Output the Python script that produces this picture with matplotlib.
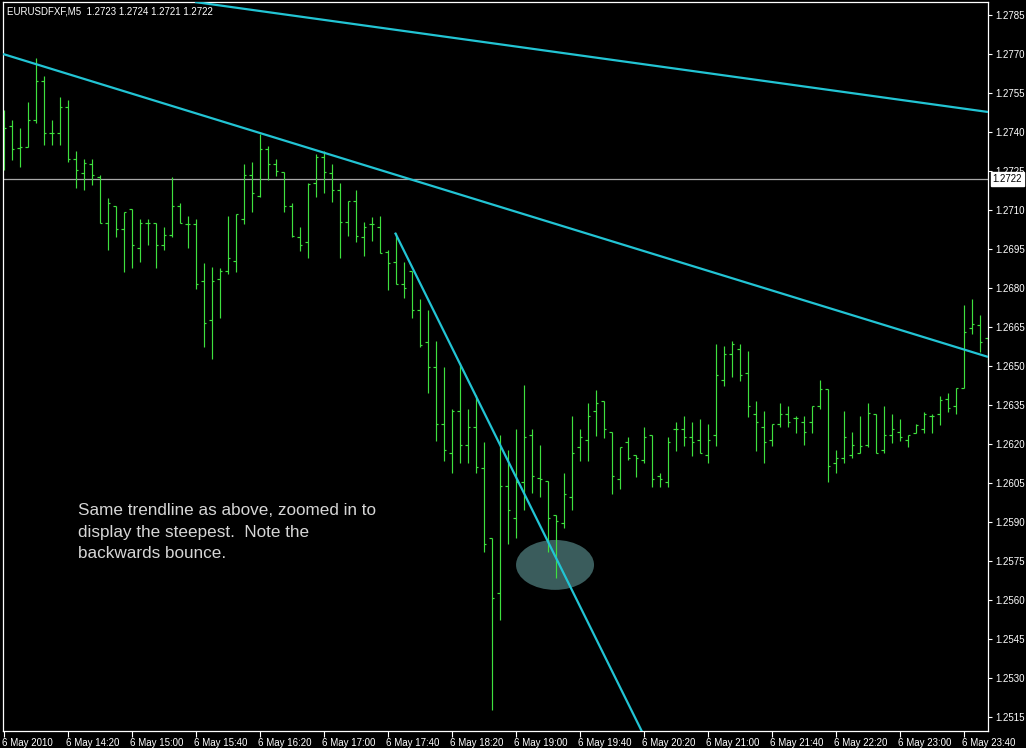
import matplotlib
matplotlib.use('Agg')
import matplotlib.pyplot as plt
from matplotlib.patches import Ellipse
import matplotlib.transforms as mtransforms

# ---------------- data ----------------
title = "EURUSDFXF,M5  1.2723 1.2724 1.2721 1.2722"

opens = [1.27331, 1.27423, 1.27338, 1.27343, 1.27446, 1.27596, 1.27396, 1.27396, 1.27496, 1.27296,
         1.27243, 1.27277, 1.27228, 1.27051, 1.27115, 1.27026, 1.27104, 1.26953, 1.27051, 1.27051,
         1.26965, 1.27004, 1.27115, 1.27046, 1.27046, 1.26828, 1.26677, 1.26835, 1.26867, 1.26904,
         1.27064, 1.27235, 1.27154, 1.27333, 1.27277, 1.27245, 1.27115, 1.26995, 1.26976, 1.27203,
         1.27305, 1.27241, 1.27177, 1.27053, 1.27135, 1.26995, 1.27045, 1.27033, 1.26938, 1.26901,
         1.26815, 1.26865, 1.26715, 1.26593, 1.26497, 1.26277, 1.26164, 1.26327, 1.26196, 1.26264,
         1.26107, 1.25837, 1.25626, 1.26038, 1.25914, 1.26055, 1.26235, 1.26068, 1.26058, 1.25927,
         1.25895, 1.25997, 1.26187, 1.26215, 1.26327, 1.26365, 1.26245, 1.26064, 1.26207, 1.26158,
         1.26138, 1.26235, 1.26077, 1.26055, 1.26257, 1.26257, 1.26226, 1.26215, 1.26158, 1.26235,
         1.26446, 1.26545, 1.26564, 1.26474, 1.26314, 1.26264, 1.26215, 1.26276, 1.26315, 1.26299,
         1.26286, 1.26286, 1.26346, 1.26410, 1.26128, 1.26145, 1.26158, 1.26164, 1.26196, 1.26315,
         1.26177, 1.26235, 1.26247, 1.26215, 1.26243, 1.26257, 1.26308, 1.26315, 1.26372, 1.26346,
         1.26414, 1.26645, 1.26658, 1.26606]

highs = [1.27485, 1.27446, 1.27415, 1.27517, 1.27683, 1.27615, 1.27446, 1.27536, 1.27523, 1.27327,
         1.27296, 1.27296, 1.27235, 1.27146, 1.27117, 1.27093, 1.27104, 1.27065, 1.27065, 1.27051,
         1.27035, 1.27228, 1.27127, 1.27077, 1.27065, 1.26896, 1.26882, 1.26877, 1.27077, 1.27085,
         1.27277, 1.27283, 1.27392, 1.27346, 1.27295, 1.27245, 1.27126, 1.27033, 1.27203, 1.27314,
         1.27327, 1.27276, 1.27203, 1.27135, 1.27177, 1.27053, 1.27074, 1.27077, 1.26946, 1.27013,
         1.26901, 1.26865, 1.26758, 1.26715, 1.26596, 1.26497, 1.26335, 1.26513, 1.26335, 1.26388,
         1.26207, 1.25837, 1.26235, 1.26177, 1.26257, 1.26427, 1.26257, 1.26196, 1.26058, 1.25927,
         1.26087, 1.26308, 1.26258, 1.26357, 1.26408, 1.26365, 1.26245, 1.26190, 1.26226, 1.26158,
         1.26264, 1.26235, 1.26090, 1.26226, 1.26284, 1.26308, 1.26284, 1.26296, 1.26277, 1.26585,
         1.26577, 1.26596, 1.26585, 1.26558, 1.26365, 1.26327, 1.26277, 1.26357, 1.26346, 1.26308,
         1.26308, 1.26346, 1.26446, 1.26410, 1.26177, 1.26327, 1.26247, 1.26308, 1.26357, 1.26315,
         1.26346, 1.26315, 1.26296, 1.26235, 1.26277, 1.26324, 1.26315, 1.26385, 1.26395, 1.26414,
         1.26735, 1.26757, 1.26696, 1.26613]

lows = [1.27254, 1.27292, 1.27265, 1.27343, 1.27433, 1.27350, 1.27350, 1.27350, 1.27286, 1.27185,
        1.27177, 1.27196, 1.27050, 1.26946, 1.26996, 1.26863, 1.26877, 1.26901, 1.26965, 1.26877,
        1.26946, 1.26996, 1.27050, 1.26954, 1.26796, 1.26574, 1.26527, 1.26685, 1.26854, 1.26863,
        1.27045, 1.27093, 1.27151, 1.27215, 1.27232, 1.27093, 1.26995, 1.26943, 1.26914, 1.27151,
        1.27164, 1.27132, 1.26914, 1.27001, 1.26976, 1.26924, 1.26982, 1.26933, 1.26792, 1.26814,
        1.26763, 1.26683, 1.26574, 1.26395, 1.26213, 1.26136, 1.26087, 1.26126, 1.26126, 1.26087,
        1.25786, 1.25177, 1.25523, 1.25815, 1.25837, 1.25946, 1.26013, 1.25995, 1.25786, 1.25683,
        1.25876, 1.25946, 1.26136, 1.26136, 1.26231, 1.26224, 1.26007, 1.26026, 1.26138, 1.26074,
        1.26126, 1.26036, 1.26036, 1.26036, 1.26174, 1.26192, 1.26155, 1.26164, 1.26126, 1.26194,
        1.26424, 1.26457, 1.26444, 1.26305, 1.26174, 1.26126, 1.26194, 1.26264, 1.26264, 1.26243,
        1.26196, 1.26243, 1.26333, 1.26055, 1.26087, 1.26126, 1.26145, 1.26164, 1.26190, 1.26164,
        1.26164, 1.26205, 1.26213, 1.26187, 1.26243, 1.26243, 1.26243, 1.26273, 1.26324, 1.26315,
        1.26414, 1.26623, 1.26555, 1.26510]

closes = [1.27415, 1.27333, 1.27342, 1.27446, 1.27596, 1.27396, 1.27396, 1.27497, 1.27296, 1.27254,
          1.27280, 1.27235, 1.27051, 1.27126, 1.27026, 1.27093, 1.26965, 1.27049, 1.27051, 1.26965,
          1.27004, 1.27115, 1.27051, 1.27046, 1.26814, 1.26664, 1.26827, 1.26867, 1.26914, 1.27083,
          1.27234, 1.27167, 1.27333, 1.27277, 1.27250, 1.27115, 1.27000, 1.26965, 1.27200, 1.27305,
          1.27245, 1.27177, 1.27053, 1.27135, 1.27001, 1.27036, 1.27045, 1.26933, 1.26895, 1.26814,
          1.26800, 1.26715, 1.26581, 1.26497, 1.26277, 1.26177, 1.26327, 1.26196, 1.26264, 1.26113,
          1.25815, 1.25607, 1.26038, 1.25946, 1.26055, 1.26226, 1.26077, 1.26064, 1.25914, 1.25905,
          1.26008, 1.26164, 1.26226, 1.26308, 1.26359, 1.26257, 1.26077, 1.26187, 1.26145, 1.26145,
          1.26226, 1.26064, 1.26064, 1.26207, 1.26257, 1.26226, 1.26207, 1.26164, 1.26215, 1.26465,
          1.26545, 1.26585, 1.26465, 1.26346, 1.26284, 1.26207, 1.26276, 1.26315, 1.26286, 1.26299,
          1.26247, 1.26346, 1.26410, 1.26115, 1.26145, 1.26228, 1.26196, 1.26192, 1.26320, 1.26164,
          1.26235, 1.26257, 1.26228, 1.26235, 1.26273, 1.26315, 1.26308, 1.26369, 1.26337, 1.26414,
          1.26632, 1.26662, 1.26593, 1.26600]

time_labels = ["6 May 2010", "6 May 14:20", "6 May 15:00", "6 May 15:40", "6 May 16:20",
               "6 May 17:00", "6 May 17:40", "6 May 18:20", "6 May 19:00", "6 May 19:40",
               "6 May 20:20", "6 May 21:00", "6 May 21:40", "6 May 22:20", "6 May 23:00",
               "6 May 23:40"]
label_step = 8  # one time label every 8 bars (40 minutes)

price_ticks = [1.2515, 1.2530, 1.2545, 1.2560, 1.2575, 1.2590, 1.2605, 1.2620, 1.2635,
               1.2650, 1.2665, 1.2680, 1.2695, 1.2710, 1.2725, 1.2740, 1.2755, 1.2770, 1.2785]
bid_price = 1.2722

# trendlines: (bar index, price) pairs
trend_top = [(23.94, 1.27900), (123.06, 1.27477)]
trend_long = [(-0.06, 1.27700), (123.06, 1.26535)]
trend_steep = [(48.94, 1.27013), (80.0, 1.25082)]

ellipse_center = (68.94, 1.25735)
ellipse_w_bars = 9.75
ellipse_h_price = 0.00192

note = "Same trendline as above, zoomed in to\ndisplay the steepest.  Note the\nbackwards bounce."

# ---------------- drawing ----------------
W, H = 1026, 748
fig = plt.figure(figsize=(W / 100, H / 100), dpi=100, facecolor='black')
ax = fig.add_axes([3 / W, 1 - 731 / H, (988 - 3) / W, (731 - 2) / H], facecolor='black')

n = len(opens)
idx = list(range(n))
green = '#3EE03E'
cyan = '#22C4D4'
tick_w = 0.36

ax.add_patch(Ellipse(ellipse_center, ellipse_w_bars, ellipse_h_price,
                     facecolor='#3A5C5C', edgecolor='none', zorder=1))

ax.axhline(bid_price, color='#A8A8A8', lw=0.9, zorder=1.5)

ax.vlines(idx, lows, highs, colors=green, lw=0.85, zorder=2)
ax.hlines(opens, [i - tick_w for i in idx], idx, colors=green, lw=0.85, zorder=2)
ax.hlines(closes, idx, [i + tick_w for i in idx], colors=green, lw=0.85, zorder=2)

for tl in (trend_top, trend_long, trend_steep):
    ax.plot([tl[0][0], tl[1][0]], [tl[0][1], tl[1][1]], color=cyan, lw=1.6,
            solid_capstyle='butt', zorder=3)

ax.set_xlim(-0.0625, 123.06)
ax.set_ylim(1.250962, 1.27900)

for s in ax.spines.values():
    s.set_color('white')
    s.set_linewidth(0.9)

font = 'Liberation Sans'
ax.yaxis.tick_right()
ax.set_yticks(price_ticks)
ax.set_yticklabels([f"{p:.4f}" for p in price_ticks], fontfamily=font)
ax.tick_params(axis='y', colors='white', direction='out', length=3, width=0.8,
               labelsize=7, pad=2)

xt = [k * label_step for k in range(len(time_labels))]
ax.set_xticks(xt)
ax.set_xticklabels(time_labels, fontfamily=font)
ax.tick_params(axis='x', colors='white', direction='out', length=4, width=0.8,
               labelsize=7, pad=1)
offset = mtransforms.ScaledTranslation(-2 / 100, 0, fig.dpi_scale_trans)
for lab in ax.get_xticklabels():
    lab.set_horizontalalignment('left')
    lab.set_transform(lab.get_transform() + offset)

# bid price box on the right axis (covers the 1.2725 label as in the terminal)
ax.text(1.0045, bid_price, f"{bid_price:.4f}", transform=ax.get_yaxis_transform(),
        ha='left', va='center', fontsize=7, fontfamily=font, color='black',
        bbox=dict(boxstyle='square,pad=0.18', facecolor='white', edgecolor='white'),
        clip_on=False, zorder=10)

fig.text(7 / W, 1 - 11 / H, title, color='white', fontsize=7, fontfamily=font,
         ha='left', va='center')

fig.text(78 / W, 1 - 503 / H, note, color='#D6D6D6', fontsize=12.3, fontfamily=font,
         ha='left', va='top', linespacing=1.55)

fig.savefig('out.png', dpi=100, facecolor='black')
